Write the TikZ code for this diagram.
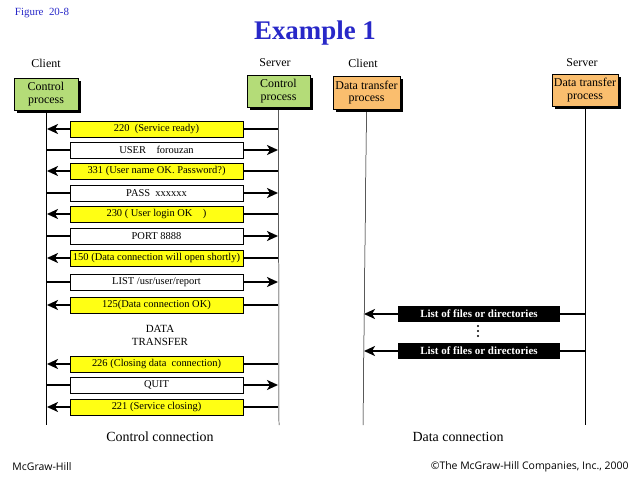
\documentclass[tikz,border=0pt]{standalone}
\usepackage{fontspec}
\setmainfont{Liberation Serif}
\newfontfamily\footfont{Open Sans}
\usetikzlibrary{arrows.meta}
\definecolor{figblue}{RGB}{40,40,200}
\definecolor{procgreen}{RGB}{180,220,120}
\definecolor{procorange}{RGB}{250,190,110}
\definecolor{msgyellow}{RGB}{255,255,20}
\begin{document}
\begin{tikzpicture}[x=1bp,y=-1bp,
  proc/.style={draw,line width=0.6pt,minimum width=64bp,minimum height=32bp,align=center,inner sep=1pt,font=\fontsize{12}{12.5}\selectfont},
  life/.style={line width=0.5pt},
  msg/.style={draw,line width=0.6pt,minimum width=173bp,minimum height=16bp,inner sep=0pt,font=\fontsize{10.5}{11}\selectfont},
  yel/.style={msg,fill=msgyellow},
  wht/.style={msg,fill=white},
  dat/.style={fill=black,text=white,minimum width=162bp,minimum height=16bp,inner sep=0pt,font=\bfseries\fontsize{11}{11}\selectfont},
  arr/.style={line width=2pt,-{Stealth[length=11bp,width=10bp,inset=3bp]}},
  lbl/.style={font=\fontsize{12}{12}\selectfont}]
\useasboundingbox (0,0) rectangle (638,478);
\node[font=\fontsize{11}{11}\selectfont,text=figblue] (fig) at (42,13) {Figure\ \ 20-8};
\node[font=\bfseries\fontsize{27}{27}\selectfont,text=figblue] (title) at (315,33) {Example 1};
\node[lbl] (l1) at (46,63) {Client};
\node[lbl] (l2) at (275,63) {Server};
\node[lbl] (l3) at (363,63) {Client};
\node[lbl] (l4) at (582,63) {Server};
% shadows
\fill (17,81) rectangle (81,113);
\fill (250,78) rectangle (313,110);
\fill (336,79) rectangle (403,112);
\fill (555,77) rectangle (621,109);
\node[proc,fill=procgreen] (cc) at (46,94) {Control\\process};
\node[proc,fill=procgreen,minimum width=63bp] (sc) at (278.5,91) {Control\\process};
\node[proc,fill=procorange,minimum width=67bp,minimum height=33bp] (cd) at (366.5,92.5) {Data transfer\\process};
\node[proc,fill=procorange,minimum width=66bp] (sd) at (585,90) {Data transfer\\process};
\coordinate (ccb) at (46,425); \coordinate (scb) at (279,425);
\coordinate (cdb) at (363,425); \coordinate (sdb) at (585,425);
\draw[life] (cc.south) -- (ccb);
\draw[life] (sc.south) -- (scb);
\draw[life] (cd.south) -- (cdb);
\draw[life] (sd.south) -- (sdb);
% control messages
\foreach \n/\y/\d/\s/\t in {
 m1/129/l/yel/{220\ \ (Service ready)},
 m2/150/r/wht/{USER\quad forouzan},
 m3/171/l/yel/{331 (User name OK. Password?)},
 m4/193/r/wht/{PASS\ \ xxxxxx},
 m5/214/l/yel/{230 ( User login OK\quad )},
 m6/236/r/wht/{PORT 8888},
 m7/258/l/yel/{150 (Data connection will open shortly)},
 m8/282/r/wht/{LIST /usr/user/report},
 m9/305/l/yel/{125(Data connection OK)},
 m10/364/l/yel/{226 (Closing data\ \ connection)},
 m11/385/r/wht/{QUIT},
 m12/407/l/yel/{221 (Service closing)}}{
  \coordinate (\n c) at (47,\y); \coordinate (\n s) at (278,\y);
  \if l\d \draw[arr] (\n s) -- (\n c); \else \draw[arr] (\n c) -- (\n s); \fi
  \node[\s] (\n) at (156.5,\y) {\t};
}
\node[align=center,font=\fontsize{11}{13}\selectfont] (dt) at (160,335) {DATA\\TRANSFER};
% data messages
\coordinate (d1s) at (585,314); \coordinate (d1c) at (364,314);
\coordinate (d2s) at (585,351); \coordinate (d2c) at (364,351);
\draw[arr] (d1s) -- (d1c);
\draw[arr] (d2s) -- (d2c);
\node[dat] (d1) at (479,314) {List of files or directories};
\node[dat] (d2) at (479,351) {List of files or directories};
\foreach \yy in {326,331,336} \fill (478,\yy) circle (1.1bp);
\node[font=\fontsize{14}{14}\selectfont] (cconn) at (160,437) {Control connection};
\node[font=\fontsize{14}{14}\selectfont] (dconn) at (458,437) {Data connection};
\node[font=\footfont\fontsize{10.5}{10.5}\selectfont] (mh) at (42,467) {McGraw-Hill};
\node[font=\footfont\fontsize{10.5}{10.5}\selectfont,anchor=east] (cr) at (632,467) {©The McGraw-Hill Companies, Inc., 2000};
\end{tikzpicture}
\end{document}
